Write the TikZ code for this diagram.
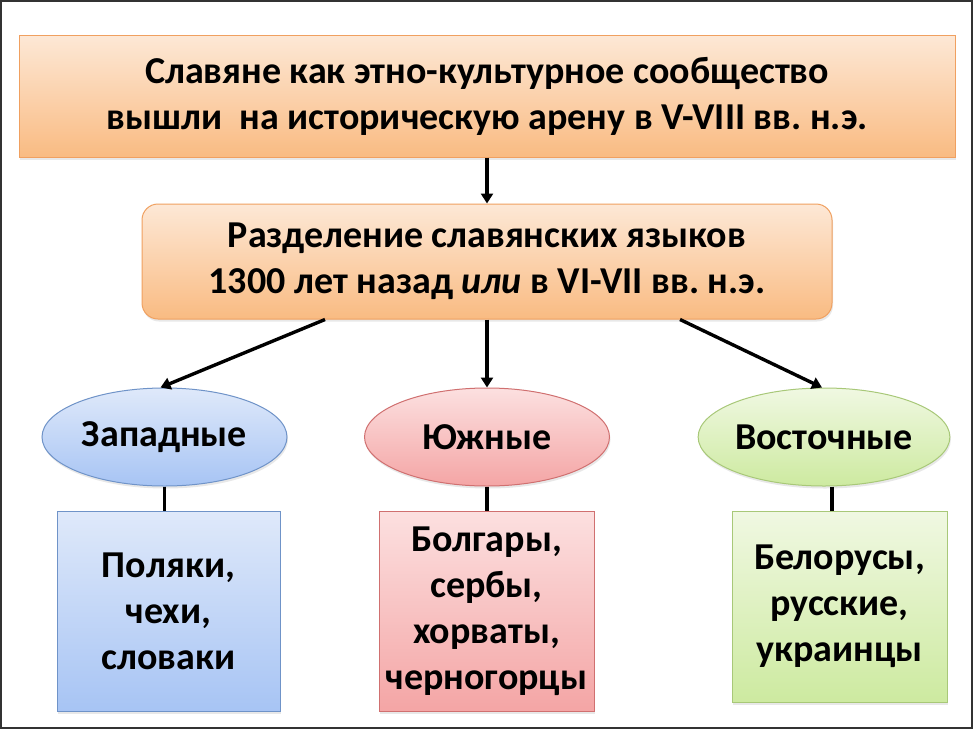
\documentclass[tikz,border=0pt]{standalone}
\usepackage{fontspec}
\setmainfont{Carlito}
\frenchspacing
\usetikzlibrary{arrows.meta,shapes.geometric,calc,shadows}
\definecolor{orline}{HTML}{F0A060}
\definecolor{ortop}{HTML}{FDE8D6}
\definecolor{orbot}{HTML}{F9BB82}
\definecolor{bline}{HTML}{6F93C8}
\definecolor{btop}{HTML}{DFE9FA}
\definecolor{bbot}{HTML}{A7C4F4}
\definecolor{rline}{HTML}{D07070}
\definecolor{rtop}{HTML}{FCE0E0}
\definecolor{rbot}{HTML}{F4A5A5}
\definecolor{gline}{HTML}{A8C878}
\definecolor{gtop}{HTML}{F0F8E2}
\definecolor{gbot}{HTML}{CDEAA0}
\tikzset{
  txt/.style={font=\bfseries\fontsize{38}{46}\selectfont, align=center, text=black},
  shad/.style={drop shadow={opacity=0.18, shadow xshift=1pt, shadow yshift=-2.5pt}},
  orbox/.style={txt, shad, draw=orline, line width=1pt, top color=ortop, bottom color=orbot},
  ell/.style={ellipse, txt, shad, line width=1pt, minimum width=245pt, minimum height=98pt, inner sep=0pt},
  grp/.style={rectangle, txt, shad, line width=1pt, minimum width=215pt, minimum height=200pt, inner sep=0pt},
  arr/.style={line width=3.4pt, -{Triangle[length=10pt,width=12pt]}},
  conn/.style={line width=3.4pt},
}
\begin{document}
\begin{tikzpicture}[x=1pt,y=-1pt]
\fill[white] (0,0) rectangle (974,731);
\draw[line width=2pt, black!80] (1,1) rectangle (972,728);

\node[orbox, rectangle, minimum width=936pt, minimum height=122pt] (top) at (487,96)
  {Славяне как этно-культурное сообщество\\вышли\ \ на историческую арену в V-VIII вв. н.э.};
\node[orbox, rectangle, rounded corners=16pt, minimum width=690pt, minimum height=115pt] (sep) at (487,261.5)
  {Разделение славянских языков\\1300 лет назад \textit{или} в VI-VII вв. н.э.};

\node[ell, draw=bline, top color=btop, bottom color=bbot] (W) at (164.5,437) {Западные};
\node[ell, draw=rline, top color=rtop, bottom color=rbot] (S) at (487,437) {Южные};
\node[ell, draw=gline, top color=gtop, bottom color=gbot] (E) at (824,437) {Восточные};

\node[grp, draw=bline, top color=btop, bottom color=bbot, minimum width=223pt] (Wg) at (168.5,611)
  {Поляки,\\чехи,\\словаки};
\node[grp, draw=rline, top color=rtop, bottom color=rbot] (Sg) at (486.5,611)
  {Болгары,\\сербы,\\хорваты,\\черногорцы};
\node[grp, draw=gline, top color=gtop, bottom color=gbot, minimum height=191pt] (Eg) at (839.5,606.5)
  {Белорусы,\\русские,\\украинцы};

\draw[arr] (top.south) -- (sep.north);
\draw[arr] ([xshift=-162pt]sep.south) -- ([xshift=-4pt]W.north);
\draw[arr] (sep.south) -- (S.north);
\draw[arr] ([xshift=193pt]sep.south) -- ([xshift=-2pt]E.north);

\draw[conn] (W.south) -- (W.south |- Wg.north);
\draw[conn] (S.south) -- (S.south |- Sg.north);
\draw[conn] ([xshift=8pt]E.south) -- ([xshift=8pt]E.south |- Eg.north);
\end{tikzpicture}
\end{document}
